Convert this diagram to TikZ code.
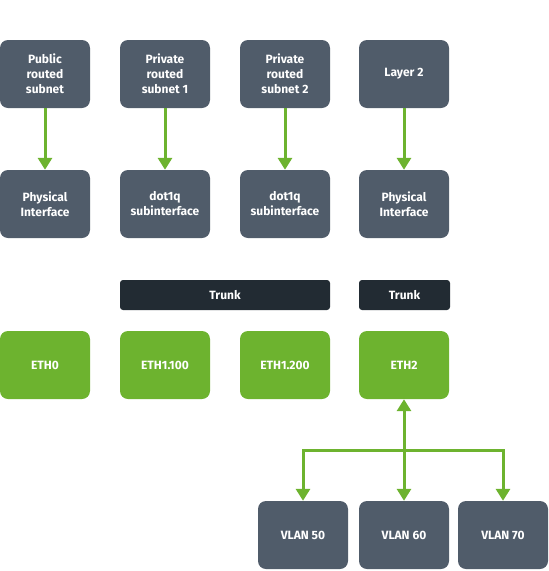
\documentclass[tikz,border=0pt]{standalone}
\usepackage{fontspec}
\setmainfont{Fira Sans}
\usetikzlibrary{arrows.meta,positioning}
\definecolor{slate}{HTML}{505C6A}
\definecolor{leaf}{HTML}{6DB32F}
\definecolor{night}{HTML}{222B33}

\begin{document}
\begin{tikzpicture}[
  x=1pt, y=-1pt, >={Triangle[width=14pt,length=12pt]},
  font=\fontsize{12}{15}\selectfont\bfseries,
  box/.style={rounded corners=8pt,minimum width=90pt,minimum height=68pt,align=center,text=white,fill=slate,inner sep=0pt},
  port/.style={box,fill=leaf},
  trunk/.style={rounded corners=3pt,minimum height=30pt,text=white,fill=night},
  link/.style={->,leaf,line width=3pt},
]
\useasboundingbox (0,0) rectangle (549,571);

\node[box] (pub)  at (45,74)  {Public\\routed\\subnet};
\node[box] (priv1) at (165,74) {Private\\routed\\subnet 1};
\node[box] (priv2) at (285,74) {Private\\routed\\subnet 2};
\node[box] (layer) at (404,74) {Layer 2};

\node[box] (phys1) at (45,204)  {Physical\\Interface};
\node[box] (dotq1) at (165,204) {dot1q\\subinterface};
\node[box] (dotq2) at (285,204) {dot1q\\subinterface};
\node[box] (phys2) at (404,204) {Physical\\Interface};

\node[trunk,minimum width=210pt] (trunkA) at (225,295) {Trunk};
\node[trunk,minimum width=91pt]  (trunkB) at (404.5,295) {Trunk};

\node[port] (eth0)  at (45,365)  {ETH0};
\node[port] (eth100) at (165,365) {ETH1.100};
\node[port] (eth200) at (285,365) {ETH1.200};
\node[port] (eth2)  at (404,365) {ETH2};

\node[box] (vlan50) at (303,535) {VLAN 50};
\node[box] (vlan60) at (404,535) {VLAN 60};
\node[box] (vlan70) at (503,535) {VLAN 70};

\foreach \a/\b in {pub/phys1,priv1/dotq1,priv2/dotq2,layer/phys2}
  \draw[link] (\a) -- (\b);

\coordinate (split) at (404,450);
\draw[link,<->] (eth2) -- (vlan60);
\draw[link] (split) -| (vlan50);
\draw[link] (split) -| (vlan70);
\end{tikzpicture}
\end{document}
